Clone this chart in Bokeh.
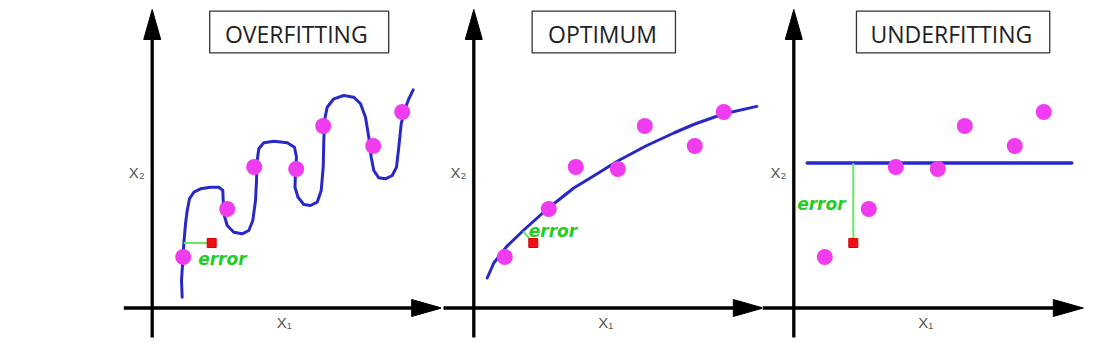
from bokeh.plotting import figure
from bokeh.layouts import row
from bokeh.models import Range1d, Label
from bokeh.embed import file_html
from bokeh.resources import INLINE

# ---- data (x1, x2 in chart units) ----
pts_x1 = [3.1, 7.5, 10.2, 14.4, 17.1, 22.1, 25.0]
pts_x2 = [5.1, 9.9, 14.1, 13.9, 18.2, 16.2, 19.6]
new_x1 = [5.95]
new_x2 = [6.5]

over_x1 = [3.00, 2.93, 3.06, 3.16, 3.33, 3.50, 3.73, 4.16, 4.83, 5.83, 6.66, 7.06, 7.10, 7.16,
           7.50, 8.16, 9.00, 9.66, 10.06, 10.33, 10.43, 10.50, 10.66, 11.16, 12.16, 13.50,
           14.23, 14.43, 14.33, 14.28, 14.58, 15.16, 15.83, 16.50, 16.90, 17.10, 17.16, 17.23,
           17.50, 18.16, 19.16, 20.16, 20.83, 21.33, 21.66, 21.90, 22.16, 22.66, 23.33, 24.00,
           24.43, 24.66, 24.90, 25.23, 25.66, 26.10]
over_x2 = [1.08, 2.75, 4.75, 6.42, 8.42, 9.75, 10.92, 11.58, 11.92, 12.08, 12.08, 11.75, 10.75, 9.42,
           8.25, 7.58, 7.42, 7.75, 8.75, 10.75, 12.75, 14.75, 15.92, 16.52, 16.68, 16.52,
           16.08, 15.08, 13.75, 12.08, 11.08, 10.35, 10.25, 10.58, 11.75, 14.08, 16.75, 18.75,
           20.08, 20.92, 21.25, 21.08, 20.42, 19.08, 17.08, 15.08, 13.75, 13.02, 12.92, 13.25,
           14.08, 16.08, 18.42, 19.75, 20.92, 21.82]

opt_x1 = [1.34, 2.0, 3.3, 5.0, 7.34, 10.0, 12.3, 14.3, 17.2, 20.0, 22.1, 24.94, 28.3]
opt_x2 = [3.0, 4.5, 6.16, 7.8, 9.9, 12.0, 13.4, 14.65, 16.2, 17.5, 18.4, 19.4, 20.16]

under_x1 = [1.34, 27.8]
under_x2 = [14.5, 14.5]

titles = ["OVERFITTING", "OPTIMUM", "UNDERFITTING"]

# ---- layout (pixels / positions) ----
widths = [441, 321, 339]
x_starts = [-15.17, -3.23, -3.13]
x_axis_from = [-2.84, -3.03, -3.13]
title_cx = [14.41, 12.87, 15.75]
box_cx = [14.70, 13.00, 15.93]
box_w = [17.9, 14.33, 19.33]

BLUE = "#2828c8"
MAG = "#ee3cee"
GREEN = "#22cc22"
LGREEN = "#66e866"
RED = "#ee1111"

figs = []
for i in range(3):
    p = figure(width=widths[i], height=358, output_backend="svg", toolbar_location=None,
               x_range=Range1d(x_starts[i], x_starts[i] + widths[i] / 10.0),
               y_range=Range1d(-5.05, 30.75), min_border=0,
               x_axis_type=None, y_axis_type=None)
    p.grid.visible = False
    p.outline_line_color = None
    p.background_fill_color = "white"
    p.border_fill_color = "white"

    # axes with arrows
    p.segment(x0=[0], y0=[-2.95], x1=[0], y1=[27.2], line_color="black", line_width=3.3)
    p.patch(x=[-0.85, 0.85, 0], y=[26.85, 26.85, 29.85], fill_color="black", line_color="black")
    p.segment(x0=[x_axis_from[i]], y0=[0], x1=[26.2], y1=[0], line_color="black", line_width=3.3)
    p.patch(x=[25.95, 25.95, 28.95], y=[-0.85, 0.85, 0], fill_color="black", line_color="black")

    p.add_layout(Label(x=-0.75, y=13.55, text="X₂", text_align="right", text_baseline="middle",
                       text_font="Liberation Sans", text_font_size="15px", text_color="#555555"))
    p.add_layout(Label(x=13.2, y=-1.45, text="X₁", text_align="center", text_baseline="middle",
                       text_font="Liberation Sans", text_font_size="15px", text_color="#555555"))

    # title box
    p.rect(x=[box_cx[i]], y=[27.6], width=box_w[i], height=4.16, fill_color="white",
           line_color="#333333", line_width=1.3)
    p.add_layout(Label(x=title_cx[i], y=27.4, text=titles[i], text_align="center",
                       text_baseline="alphabetic", text_font="Open Sans",
                       text_font_size="23px", text_color="#222222"))
    figs.append(p)

p1, p2, p3 = figs

# overfitting
p1.line(over_x1, over_x2, line_color=BLUE, line_width=3, line_join="round", line_cap="round")
p1.segment(x0=[3.16], y0=new_x2, x1=new_x1, y1=new_x2, line_color=LGREEN, line_width=2)
p1.add_layout(Label(x=4.6, y=4.9, text="error", text_baseline="middle", text_font="DejaVu Sans",
                    text_font_style="bold italic", text_font_size="17px", text_color=GREEN))

# optimum
p2.line(opt_x1, opt_x2, line_color=BLUE, line_width=3, line_join="round", line_cap="round")
p2.segment(x0=[4.94], y0=[7.66], x1=new_x1, y1=new_x2, line_color=LGREEN, line_width=2)
p2.add_layout(Label(x=5.5, y=7.7, text="error", text_baseline="middle", text_font="DejaVu Sans",
                    text_font_style="bold italic", text_font_size="17px", text_color=GREEN))

# underfitting
p3.line(under_x1, under_x2, line_color=BLUE, line_width=3.5, line_cap="round")
p3.segment(x0=new_x1, y0=[under_x2[0]], x1=new_x1, y1=new_x2, line_color=LGREEN, line_width=2)
p3.add_layout(Label(x=0.34, y=10.45, text="error", text_baseline="middle", text_font="DejaVu Sans",
                    text_font_style="bold italic", text_font_size="17px", text_color=GREEN))

for p in figs:
    p.scatter(pts_x1, pts_x2, size=16, fill_color=MAG, line_color=None)
    p.scatter(new_x1, new_x2, marker="square", size=9, fill_color=RED, line_color="#dd0000")

layout = row(p1, p2, p3, spacing=0)
open("out.html", "w").write(file_html(layout, INLINE))
